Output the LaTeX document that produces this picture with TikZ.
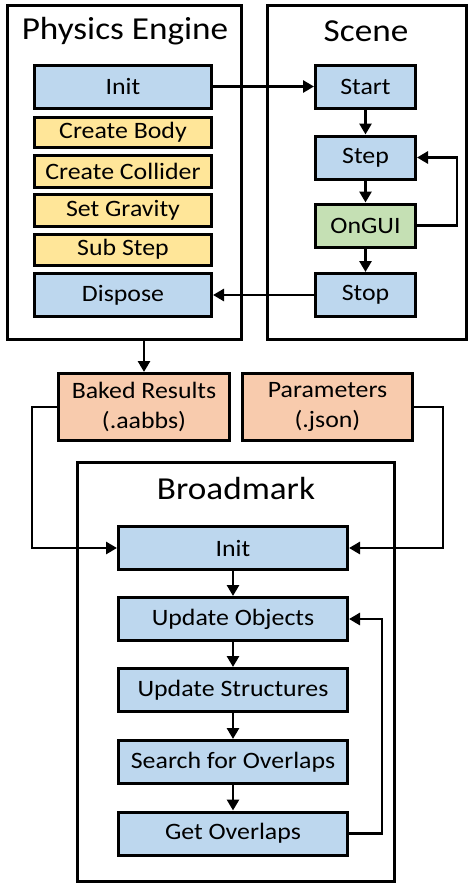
\documentclass[tikz,border=0pt]{standalone}
\usepackage{fontspec}
\setmainfont{Carlito}[FakeStretch=1.1]
\usetikzlibrary{arrows.meta}
\definecolor{bluef}{HTML}{BDD7EE}
\definecolor{yellowf}{HTML}{FFE699}
\definecolor{greenf}{HTML}{C5E0B4}
\definecolor{orangef}{HTML}{F8CBAD}
\begin{document}
\begin{tikzpicture}[x=1pt,y=-1pt,
  box/.style={draw=black, line width=3pt, inner sep=0pt, align=center,
    font=\fontsize{23.5}{30}\selectfont},
  cont/.style={draw=black, line width=3.2pt, inner sep=0pt},
  title/.style={font=\fontsize{32}{36}\selectfont, inner sep=0pt},
  arr/.style={line width=2.8pt, -{Triangle[length=11pt,width=12pt]}},
  ln/.style={line width=2.8pt}]
\useasboundingbox[fill=white] (0,0) rectangle (474,895);
% containers
\node[cont, minimum width=234pt, minimum height=334pt] (pe) at (124.5,172.5) {};
\node[cont, minimum width=199pt, minimum height=334pt] (sc) at (367,172.5) {};
\node[cont, minimum width=317pt, minimum height=419pt] (bm) at (236,672) {};
\node[title] (pet) at (125,31) {Physics Engine};
\node[title] (sct) at (366,31) {Scene};
\node[title] (bmt) at (236,488) {Broadmark};
% physics engine
\node[box, fill=bluef, minimum width=177pt, minimum height=43pt] (peinit) at (123,86.5) {Init};
\node[box, fill=yellowf, minimum width=177pt, minimum height=30pt] (cbody) at (123,132) {Create Body};
\node[box, fill=yellowf, minimum width=177pt, minimum height=32pt] (ccoll) at (123,171) {Create Collider};
\node[box, fill=yellowf, minimum width=177pt, minimum height=32pt] (sgrav) at (123,210.5) {Set Gravity};
\node[box, fill=yellowf, minimum width=177pt, minimum height=31pt] (sstep) at (123,249.5) {Sub Step};
\node[box, fill=bluef, minimum width=177pt, minimum height=43pt] (dispose) at (123,295) {Dispose};
% scene
\node[box, fill=bluef, minimum width=100pt, minimum height=43pt] (start) at (365.5,86.5) {Start};
\node[box, fill=bluef, minimum width=100pt, minimum height=43pt] (step) at (365.5,157.5) {Step};
\node[box, fill=greenf, minimum width=100pt, minimum height=43pt] (ongui) at (365.5,225.5) {OnGUI};
\node[box, fill=bluef, minimum width=100pt, minimum height=43pt] (stop) at (365.5,295) {Stop};
% data
\node[box, fill=orangef, minimum width=171pt, minimum height=67pt] (baked) at (144,407) {Baked Results\\(.aabbs)};
\node[box, fill=orangef, minimum width=170pt, minimum height=67pt] (params) at (327.5,407) {Parameters\\(.json)};
% broadmark
\node[box, fill=bluef, minimum width=229pt, minimum height=43pt] (bminit) at (233,548) {Init};
\node[box, fill=bluef, minimum width=229pt, minimum height=43pt] (uobj) at (233,619) {Update Objects};
\node[box, fill=bluef, minimum width=229pt, minimum height=43pt] (ustr) at (233,690) {Update Structures};
\node[box, fill=bluef, minimum width=229pt, minimum height=43pt] (sfo) at (233,762) {Search for Overlaps};
\node[box, fill=bluef, minimum width=229pt, minimum height=43pt] (gover) at (233,833.5) {Get Overlaps};
% connectors
\draw[arr] (peinit.east) -- (start.west);
\draw[arr] (start.south) -- (step.north);
\draw[arr] (step.south) -- (ongui.north);
\draw[arr] (ongui.south) -- (stop.north);
\draw[arr] (ongui.east) -- ++(40,0) |- (step.east);
\draw[arr] (stop.west) -- (dispose.east);
\draw[arr] (baked.north |- pe.south) -- (baked.north);
\draw[arr] (baked.west) -- ++(-25,0) |- (bminit.west);
\draw[arr] (params.east) -- ++(29,0) |- (bminit.east);
\draw[arr] (bminit.south) -- (uobj.north);
\draw[arr] (uobj.south) -- (ustr.north);
\draw[arr] (ustr.south) -- (sfo.north);
\draw[arr] (sfo.south) -- (gover.north);
\draw[arr] (gover.east) -- ++(33,0) |- (uobj.east);
\end{tikzpicture}
\end{document}
